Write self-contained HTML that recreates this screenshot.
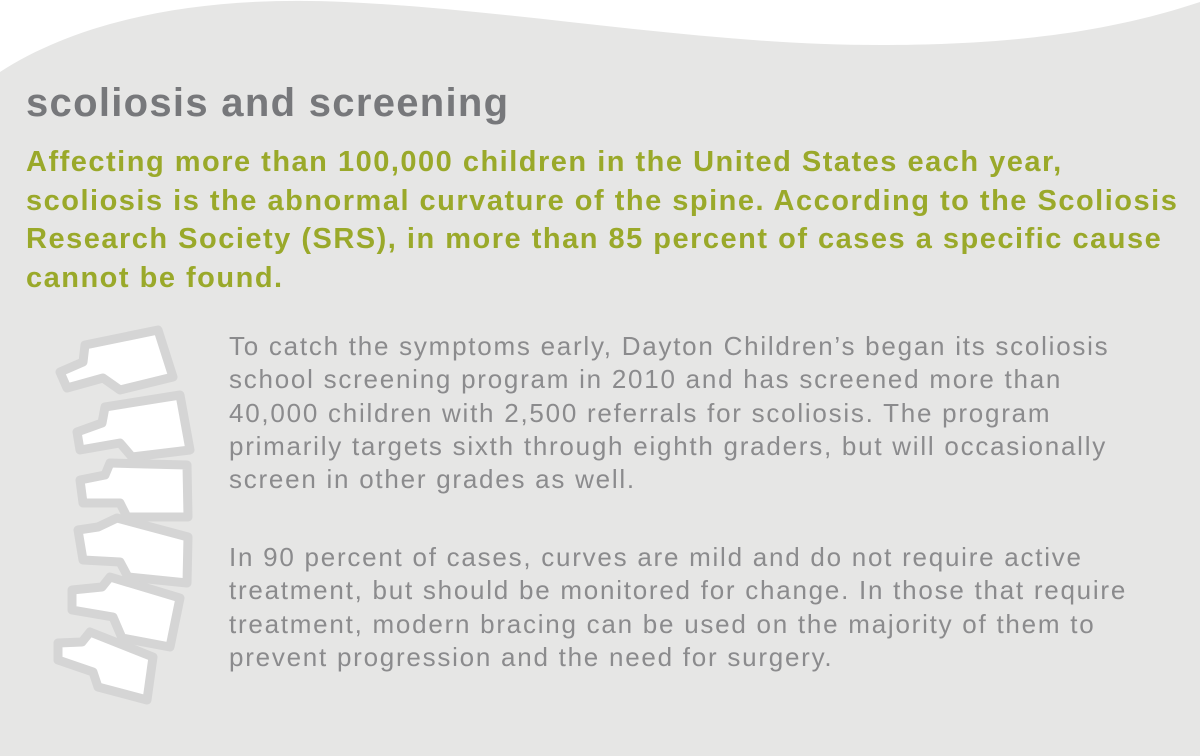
<!DOCTYPE html>
<html><head><style>
body{margin:0;width:1200px;height:756px;overflow:hidden;background:#fff;font-family:"Liberation Sans",sans-serif;position:relative}
svg{position:absolute;left:0;top:0}
.t{position:absolute;left:26px;top:81px;font-size:40px;font-weight:bold;color:#77787b;letter-spacing:1.3px;white-space:nowrap}
.g{position:absolute;left:26px;top:143px;font-size:29px;font-weight:bold;color:#9aa92a;line-height:38.5px;letter-spacing:1.5px;white-space:nowrap}
.b{position:absolute;left:229px;font-size:26px;color:#8b8b8d;line-height:33.3px;letter-spacing:1.75px;white-space:nowrap}
</style></head><body>
<svg width="1200" height="756">
<path d="M0,72 C80,20 200,-5 345,2 C520,10 700,45 880,45 C1040,45 1130,25 1200,2 L1200,756 L0,756 Z" fill="#e6e6e5"/>
<g fill="#fff" stroke="#d5d5d5" stroke-width="9" stroke-linejoin="round">
<polygon points="60,372 83,362 85,345 158,330 173,377 120,390 103,378 67,388"/>
<polygon points="77,432 102,423 105,407 180,395 190,450 132,457 120,443 80,450"/>
<polygon points="80,480 105,475 110,463 187,465 188,517 127,517 120,503 83,503"/>
<polygon points="78,530 98,527 117,518 188,537 187,583 128,577 120,562 83,560"/>
<polygon points="72,590 102,587 110,577 180,598 170,647 122,638 113,617 72,610"/>
<polygon points="58,643 82,642 90,632 153,657 147,700 98,687 93,672 58,660"/>
</g>
</svg>
<div class="t">scoliosis and screening</div>
<div class="g">Affecting more than 100,000 children in the United States each year,<br>scoliosis is the abnormal curvature of the spine. According to the Scoliosis<br>Research Society (SRS), in more than 85 percent of cases a specific cause<br>cannot be found.</div>
<div class="b" style="top:330px">To catch the symptoms early, Dayton Children’s began its scoliosis<br>school screening program in 2010 and has screened more than<br>40,000 children with 2,500 referrals for scoliosis. The program<br>primarily targets sixth through eighth graders, but will occasionally<br>screen in other grades as well.</div>
<div class="b" style="top:541px">In 90 percent of cases, curves are mild and do not require active<br>treatment, but should be monitored for change. In those that require<br>treatment, modern bracing can be used on the majority of them to<br>prevent progression and the need for surgery.</div>
</body></html>
